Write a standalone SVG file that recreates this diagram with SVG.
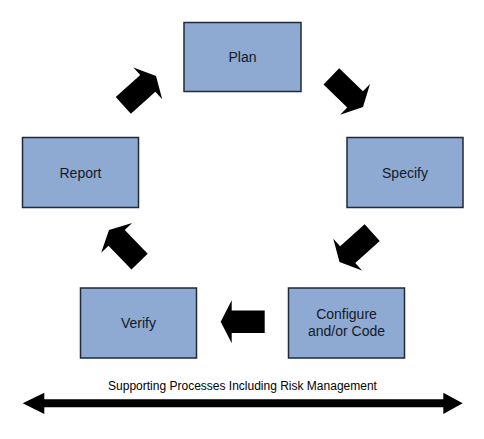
<svg xmlns="http://www.w3.org/2000/svg" width="484" height="439" viewBox="0 0 484 439">
<style>
.box{fill:#8EA9D2;stroke:#1F2A38;stroke-width:1.5}
.lbl{font-family:"Liberation Sans",Arial,sans-serif;font-size:14px;fill:#141A28;text-anchor:middle}
.cap{font-family:"Liberation Sans",Arial,sans-serif;font-size:12px;fill:#000;text-anchor:middle}
.arr{fill:#000}
</style>
<defs>
<polygon id="blk" points="0,0 -11,-21.5 -11,-11.3 -44,-11.3 -44,11.3 -11,11.3 -11,21.5"/>
</defs>
<rect width="484" height="439" fill="#fff"/>
<g id="connectors" class="arr">
<use href="#blk" transform="translate(363,107) rotate(44)"/>
<use href="#blk" transform="translate(339.5,262) rotate(138)"/>
<use href="#blk" transform="translate(220.7,321.7) rotate(180)"/>
<use href="#blk" transform="translate(109,230) rotate(-134)"/>
<use href="#blk" transform="translate(156,76) rotate(-42)"/>
<polygon points="22.7,403.3 44.3,392.7 44.3,399.3 443.3,399.3 443.3,392.7 462.7,403.3 443.3,414 443.3,407.3 44.3,407.3 44.3,414"/>
</g>
<g id="plan"><rect class="box" x="184" y="22.5" width="117" height="69"/><text class="lbl" x="242.5" y="62">Plan</text></g>
<g id="specify"><rect class="box" x="347" y="137.5" width="116" height="70"/><text class="lbl" x="405" y="177.5">Specify</text></g>
<g id="configure"><rect class="box" x="288.5" y="288" width="116" height="70"/><text class="lbl" x="346.5" y="318.5">Configure</text><text class="lbl" x="346.5" y="335.5">and/or Code</text></g>
<g id="verify"><rect class="box" x="80.5" y="288" width="116" height="70"/><text class="lbl" x="138.5" y="328">Verify</text></g>
<g id="report"><rect class="box" x="22.5" y="137.5" width="116" height="70"/><text class="lbl" x="80.5" y="177.5">Report</text></g>
<g id="caption"><text class="cap" x="242.5" y="390">Supporting Processes Including Risk Management</text></g>
</svg>
